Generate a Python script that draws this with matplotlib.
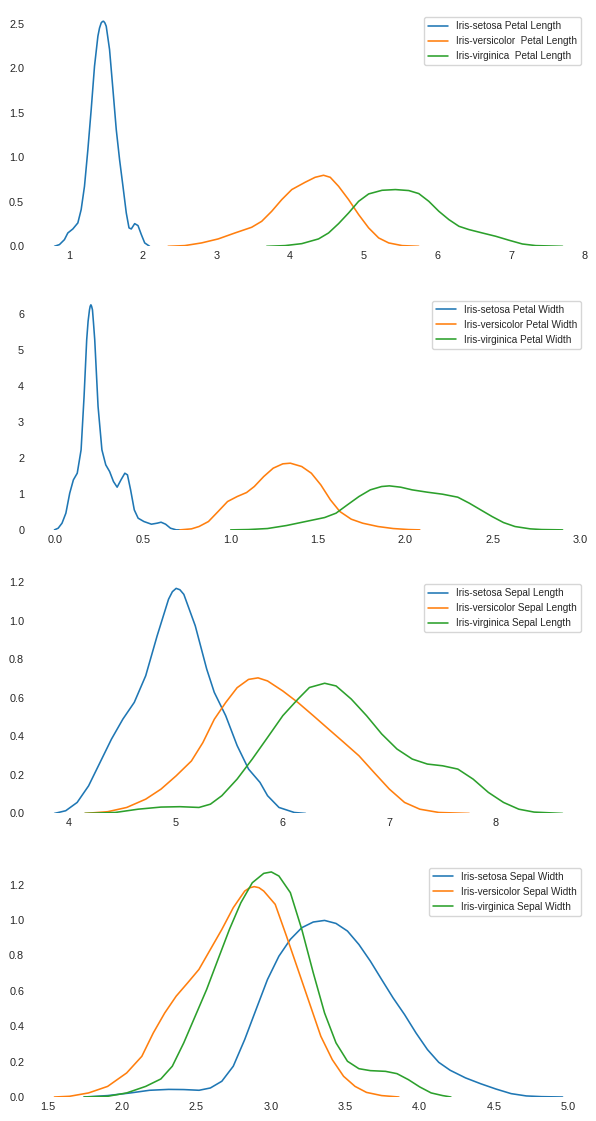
import matplotlib

matplotlib.use("Agg")
import matplotlib.pyplot as plt  # noqa: E402
import seaborn as sns  # noqa: E402

# Curve points (x, density).
pl_setosa_x = [0.803, 0.871, 0.939, 0.985, 1.053, 1.121, 1.166, 1.211, 1.257, 1.302, 1.347, 1.393,
               1.415, 1.438, 1.455, 1.470, 1.488, 1.506, 1.551, 1.597, 1.642, 1.687, 1.733, 1.778,
               1.815, 1.846, 1.892, 1.937, 1.982, 2.028, 2.095]
pl_setosa_y = [0.0, 0.019, 0.075, 0.150, 0.195, 0.263, 0.413, 0.675, 1.088, 1.538, 2.025, 2.363,
               2.455, 2.513, 2.528, 2.531, 2.512, 2.475, 2.213, 1.763, 1.313, 0.975, 0.675, 0.375,
               0.207, 0.195, 0.255, 0.233, 0.132, 0.038, 0.0]
pl_versi_x = [2.345, 2.572, 2.799, 3.025, 3.252, 3.479, 3.615, 3.751, 3.887, 4.023, 4.204, 4.340,
              4.454, 4.545, 4.658, 4.794, 4.930, 5.066, 5.202, 5.338, 5.520, 5.746]
pl_versi_y = [0.0, 0.008, 0.038, 0.083, 0.150, 0.214, 0.281, 0.394, 0.525, 0.638, 0.720, 0.776,
              0.799, 0.776, 0.675, 0.525, 0.357, 0.207, 0.094, 0.038, 0.008, 0.0]
pl_virgi_x = [3.683, 3.933, 4.159, 4.386, 4.522, 4.658, 4.794, 4.930, 5.066, 5.248, 5.429, 5.610,
              5.746, 5.882, 6.018, 6.155, 6.291, 6.427, 6.608, 6.789, 6.971, 7.152, 7.333, 7.697]
pl_virgi_y = [0.0, 0.008, 0.030, 0.083, 0.150, 0.255, 0.375, 0.506, 0.589, 0.630, 0.638, 0.627,
              0.593, 0.506, 0.394, 0.300, 0.225, 0.188, 0.150, 0.113, 0.068, 0.026, 0.008, 0.0]

pw_setosa_x = [-0.0065, 0.015, 0.037, 0.059, 0.081, 0.102, 0.124, 0.146, 0.163, 0.178, 0.186,
               0.194, 0.198, 0.202, 0.206, 0.211, 0.217, 0.224, 0.243, 0.265, 0.287, 0.309,
               0.331, 0.352, 0.374, 0.396, 0.411, 0.429, 0.450, 0.472, 0.505, 0.548, 0.581,
               0.603, 0.629, 0.657, 0.690, 0.711]
pw_setosa_y = [0.0, 0.046, 0.186, 0.464, 1.020, 1.391, 1.576, 2.226, 3.710, 5.286, 5.800,
               6.121, 6.220, 6.260, 6.220, 6.121, 5.750, 5.286, 3.432, 2.226, 1.808, 1.623,
               1.345, 1.187, 1.391, 1.576, 1.530, 1.113, 0.556, 0.325, 0.232, 0.158, 0.186,
               0.213, 0.158, 0.046, 0.0, 0.0]
pw_versi_x = [0.711, 0.777, 0.820, 0.874, 0.929, 0.983, 1.038, 1.092, 1.136, 1.190, 1.244, 1.299,
              1.342, 1.407, 1.462, 1.516, 1.571, 1.625, 1.690, 1.756, 1.843, 1.930, 2.017, 2.082]
pw_versi_y = [0.0, 0.028, 0.093, 0.232, 0.510, 0.788, 0.927, 1.039, 1.206, 1.484, 1.716, 1.837,
              1.855, 1.762, 1.576, 1.252, 0.835, 0.510, 0.297, 0.185, 0.093, 0.037, 0.009, 0.0]
pw_virgi_x = [1.001, 1.103, 1.211, 1.320, 1.429, 1.538, 1.603, 1.668, 1.734, 1.799, 1.864, 1.908,
              1.973, 2.038, 2.125, 2.212, 2.299, 2.365, 2.430, 2.495, 2.560, 2.626, 2.713, 2.778,
              2.898]
pw_virgi_y = [0.0, 0.009, 0.037, 0.121, 0.232, 0.343, 0.464, 0.696, 0.927, 1.113, 1.206, 1.224,
              1.187, 1.113, 1.048, 0.992, 0.909, 0.742, 0.556, 0.371, 0.204, 0.093, 0.028, 0.009,
              0.0]

sl_setosa_x = [3.865, 3.971, 4.078, 4.185, 4.292, 4.399, 4.506, 4.613, 4.720, 4.827, 4.934, 4.970,
               5.005, 5.040, 5.077, 5.184, 5.291, 5.362, 5.469, 5.576, 5.683, 5.790, 5.861, 5.968,
               6.111, 6.217]
sl_setosa_y = [0.0, 0.014, 0.057, 0.143, 0.264, 0.385, 0.489, 0.576, 0.714, 0.921, 1.111, 1.150,
               1.167, 1.160, 1.136, 0.973, 0.749, 0.628, 0.507, 0.352, 0.230, 0.161, 0.092, 0.031,
               0.005, 0.0]
sl_versi_x = [4.150, 4.364, 4.542, 4.720, 4.863, 5.005, 5.148, 5.255, 5.362, 5.469, 5.576, 5.683,
              5.772, 5.861, 6.004, 6.146, 6.289, 6.431, 6.574, 6.717, 6.859, 7.002, 7.144, 7.287,
              7.465, 7.750]
sl_versi_y = [0.0, 0.009, 0.031, 0.074, 0.126, 0.195, 0.272, 0.367, 0.488, 0.575, 0.652, 0.695,
              0.703, 0.687, 0.635, 0.575, 0.507, 0.438, 0.369, 0.299, 0.212, 0.126, 0.057, 0.022,
              0.005, 0.0]
sl_virgi_x = [4.150, 4.435, 4.649, 4.863, 5.041, 5.219, 5.326, 5.433, 5.576, 5.718, 5.861, 6.004,
              6.146, 6.253, 6.396, 6.503, 6.645, 6.788, 6.930, 7.073, 7.216, 7.358, 7.501, 7.643,
              7.786, 7.929, 8.071, 8.214, 8.357, 8.624]
sl_virgi_y = [0.0, 0.005, 0.022, 0.033, 0.035, 0.031, 0.048, 0.092, 0.178, 0.282, 0.394, 0.507,
              0.593, 0.653, 0.675, 0.661, 0.593, 0.507, 0.412, 0.334, 0.282, 0.256, 0.247, 0.230,
              0.178, 0.109, 0.057, 0.022, 0.007, 0.0]

sw_setosa_x = [1.743, 1.902, 2.056, 2.184, 2.312, 2.414, 2.517, 2.593, 2.670, 2.747, 2.824, 2.900,
               2.977, 3.054, 3.131, 3.208, 3.285, 3.361, 3.438, 3.515, 3.592, 3.669, 3.745, 3.822,
               3.899, 3.976, 4.053, 4.129, 4.206, 4.309, 4.411, 4.514, 4.616, 4.718, 4.821, 4.962]
sw_setosa_y = [0.0, 0.008, 0.023, 0.038, 0.043, 0.042, 0.038, 0.051, 0.089, 0.174, 0.325, 0.494,
               0.664, 0.796, 0.891, 0.957, 0.989, 0.998, 0.981, 0.938, 0.862, 0.768, 0.664, 0.560,
               0.466, 0.362, 0.268, 0.196, 0.151, 0.108, 0.075, 0.045, 0.019, 0.006, 0.002, 0.0]
sw_versi_x = [1.544, 1.646, 1.774, 1.902, 2.030, 2.132, 2.209, 2.286, 2.363, 2.440, 2.516, 2.593,
              2.670, 2.747, 2.824, 2.856, 2.888, 2.920, 2.952, 3.029, 3.105, 3.182, 3.259, 3.336,
              3.413, 3.489, 3.566, 3.643, 3.745, 3.861]
sw_versi_y = [0.0, 0.004, 0.023, 0.060, 0.136, 0.230, 0.362, 0.475, 0.570, 0.645, 0.721, 0.834,
              0.947, 1.070, 1.164, 1.182, 1.189, 1.183, 1.164, 1.089, 0.909, 0.721, 0.532, 0.343,
              0.211, 0.117, 0.060, 0.026, 0.008, 0.0]
sw_virgi_x = [1.743, 1.902, 2.030, 2.158, 2.260, 2.337, 2.414, 2.491, 2.568, 2.644, 2.721, 2.798,
              2.875, 2.952, 3.003, 3.054, 3.131, 3.208, 3.285, 3.361, 3.438, 3.515, 3.592, 3.669,
              3.771, 3.848, 3.925, 4.001, 4.078, 4.155, 4.211]
sw_virgi_y = [0.0, 0.004, 0.023, 0.060, 0.102, 0.174, 0.306, 0.457, 0.608, 0.777, 0.947, 1.098,
              1.211, 1.264, 1.272, 1.249, 1.155, 0.947, 0.702, 0.475, 0.306, 0.202, 0.160, 0.149,
              0.145, 0.132, 0.098, 0.057, 0.023, 0.008, 0.0]

labels_pl = ["Iris-setosa Petal Length", "Iris-versicolor  Petal Length",
             "Iris-virginica  Petal Length"]
labels_pw = ["Iris-setosa Petal Width", "Iris-versicolor Petal Width",
             "Iris-virginica Petal Width"]
labels_sl = ["Iris-setosa Sepal Length", "Iris-versicolor Sepal Length",
             "Iris-virginica Sepal Length"]
labels_sw = ["Iris-setosa Sepal Width", "Iris-versicolor Sepal Width",
             "Iris-virginica Sepal Width"]

panels = [
    ([(pl_setosa_x, pl_setosa_y), (pl_versi_x, pl_versi_y), (pl_virgi_x, pl_virgi_y)], labels_pl),
    ([(pw_setosa_x, pw_setosa_y), (pw_versi_x, pw_versi_y), (pw_virgi_x, pw_virgi_y)], labels_pw),
    ([(sl_setosa_x, sl_setosa_y), (sl_versi_x, sl_versi_y), (sl_virgi_x, sl_virgi_y)], labels_sl),
    ([(sw_setosa_x, sw_setosa_y), (sw_versi_x, sw_versi_y), (sw_virgi_x, sw_virgi_y)], labels_sw),
]
colors = ["#1f77b4", "#ff7f0e", "#2ca02c"]

sns.set_style("white")
plt.rcParams["font.family"] = ["Liberation Sans", "DejaVu Sans"]

fig, axs = plt.subplots(4, 1, figsize=(5.96, 11.21), dpi=100)
fig.subplots_adjust(left=29 / 596, right=588 / 596, top=1 - 10 / 1121,
                    bottom=1 - 1097 / 1121, hspace=0.2)

for ax, (curves, labels) in zip(axs, panels):
    for (x, y), lab, c in zip(curves, labels, colors):
        ax.plot(x, y, color=c, lw=1.15, label=lab)
    ax.set_ylim(0, None)
    for s in ax.spines.values():
        s.set_visible(False)
    ax.tick_params(labelsize=7.8, colors=".15", length=0)
    ax.legend(loc="upper right", fontsize=7.2, frameon=True, borderaxespad=0.7)

fig.savefig("out.png", dpi=100)
